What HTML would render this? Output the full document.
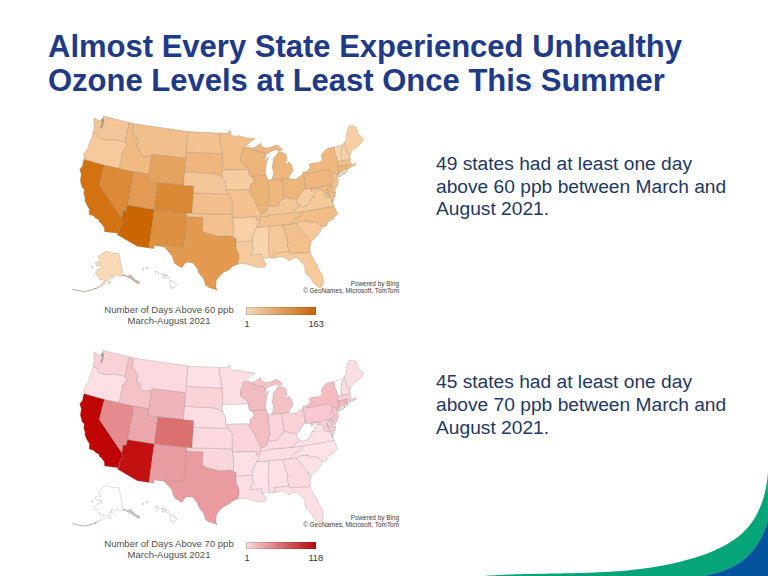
<!DOCTYPE html>
<html><head><meta charset="utf-8">
<style>
html,body{margin:0;padding:0;background:#fff;}
body{width:768px;height:576px;position:relative;overflow:hidden;font-family:"Liberation Sans",sans-serif;}
.t{position:absolute;left:48px;top:29.7px;font-weight:bold;font-size:31px;line-height:34.5px;color:#203a88;white-space:nowrap;}
.b{position:absolute;left:436px;font-size:19.2px;line-height:22.8px;color:#1f3864;white-space:nowrap;}
.lg{position:absolute;font-size:9.5px;line-height:11px;color:#505050;text-align:center;white-space:nowrap;width:160px;}
.n{position:absolute;font-size:9.3px;line-height:11px;color:#383838;white-space:nowrap;}
.pw{position:absolute;right:369px;font-size:6.4px;line-height:7px;color:#404040;text-align:right;white-space:nowrap;}
.bar{position:absolute;left:246.4px;width:69.4px;height:7.4px;box-shadow:inset 0 0 0 0.6px rgba(90,60,40,0.35);}
svg{position:absolute;left:0;top:0;}
</style></head><body>
<svg width="768" height="576" viewBox="0 0 768 576">
<path d="M767.94 470.32L767.80 473.15L767.59 475.99L767.30 478.86L766.94 481.73L766.50 484.61L765.98 487.49L765.38 490.36L764.71 493.22L763.96 496.07L763.13 498.88L762.21 501.67L761.22 504.43L760.14 507.14L758.98 509.81L757.74 512.42L756.41 514.97L755.00 517.47L753.50 519.89L751.91 522.23L750.24 524.50L748.48 526.68L746.63 528.77L744.71 530.79L742.71 532.73L740.63 534.59L738.49 536.38L736.28 538.09L734.00 539.74L731.67 541.32L729.29 542.83L726.85 544.28L724.36 545.68L721.83 547.01L719.26 548.29L716.65 549.51L714.00 550.68L711.33 551.81L708.63 552.88L705.91 553.92L703.16 554.91L700.40 555.86L697.63 556.77L694.85 557.64L692.06 558.49L689.27 559.30L686.48 560.08L683.68 560.83L680.88 561.55L678.07 562.24L675.27 562.90L672.46 563.54L669.64 564.14L666.83 564.72L664.01 565.28L661.19 565.81L658.37 566.31L655.54 566.80L652.71 567.25L649.88 567.69L647.05 568.10L644.21 568.49L641.37 568.86L638.53 569.21L635.69 569.54L632.84 569.86L630.00 570.15L627.15 570.43L624.30 570.68L621.45 570.93L618.59 571.16L615.74 571.37L612.88 571.57L610.02 571.75L607.16 571.92L604.30 572.08L601.43 572.23L598.57 572.36L595.70 572.49L592.84 572.60L589.97 572.71L587.10 572.81L584.23 572.90L581.36 572.98L578.49 573.05L575.62 573.12L572.75 573.19L569.87 573.25L567.00 573.30L564.12 573.35L561.25 573.40L558.37 573.45L555.50 573.50L552.62 573.54L549.75 573.58L546.87 573.63L544.00 573.67L541.12 573.72L538.25 573.77L535.37 573.82L532.50 573.88L529.62 573.94L526.75 574.01L523.87 574.08L521.00 574.15L518.13 574.24L515.26 574.33L512.39 574.43L509.52 574.54L506.65 574.66L503.78 574.78L500.91 574.92L498.04 575.07L495.18 575.23L492.31 575.41L489.45 575.60L486.59 575.80L483.73 576.01L480.87 576.24L478.01 576.49L768 576Z" fill="#05a577"/>
<path d="M768.12 518.73L767.66 520.35L767.18 521.97L766.67 523.57L766.14 525.17L765.58 526.75L764.99 528.33L764.38 529.89L763.74 531.44L763.07 532.98L762.38 534.50L761.66 536.01L760.91 537.49L760.14 538.96L759.34 540.41L758.50 541.84L757.65 543.25L756.76 544.64L755.84 546.00L754.90 547.34L753.92 548.65L752.92 549.93L751.89 551.19L750.82 552.42L749.73 553.62L748.61 554.79L747.46 555.93L746.27 557.03L745.06 558.10L743.81 559.14L742.54 560.14L741.23 561.10L739.90 562.03L738.54 562.93L737.15 563.80L735.74 564.63L734.31 565.43L732.85 566.20L731.38 566.94L729.88 567.65L728.37 568.33L726.84 568.98L725.29 569.60L723.73 570.20L722.16 570.77L720.58 571.32L718.98 571.84L717.38 572.34L715.77 572.81L714.15 573.26L712.53 573.69L710.90 574.09L709.28 574.48L707.65 574.85L706.02 575.19L704.39 575.52L702.77 575.83L701.15 576.12L699.53 576.39L697.92 576.65L768 576Z" fill="#02539c"/>
<path d="M768.12 518.73L767.66 520.35L767.18 521.97L766.67 523.57L766.14 525.17L765.58 526.75L764.99 528.33L764.38 529.89L763.74 531.44L763.07 532.98L762.38 534.50L761.66 536.01L760.91 537.49L760.14 538.96L759.34 540.41L758.50 541.84L757.65 543.25L756.76 544.64L755.84 546.00L754.90 547.34L753.92 548.65L752.92 549.93L751.89 551.19L750.82 552.42L749.73 553.62L748.61 554.79L747.46 555.93L746.27 557.03L745.06 558.10L743.81 559.14L742.54 560.14L741.23 561.10L739.90 562.03L738.54 562.93L737.15 563.80L735.74 564.63L734.31 565.43L732.85 566.20L731.38 566.94L729.88 567.65L728.37 568.33L726.84 568.98L725.29 569.60L723.73 570.20L722.16 570.77L720.58 571.32L718.98 571.84L717.38 572.34L715.77 572.81L714.15 573.26L712.53 573.69L710.90 574.09L709.28 574.48L707.65 574.85L706.02 575.19L704.39 575.52L702.77 575.83L701.15 576.12L699.53 576.39L697.92 576.65" fill="none" stroke="#1c9f98" stroke-width="1.3" stroke-opacity="0.85"/>
<g stroke="#7a6a5c" stroke-opacity="0.45" stroke-width="0.5" stroke-linejoin="round">
<path d="M94.1 117.5L98.6 120.5L101.4 120.9L103.5 117.7L102.7 115.8L129.4 122.6L125.6 139.4L125.5 142.3L115.9 140.1L112.9 139.8L108.3 140.3L104.9 140.1L101.2 139.0L97.7 137.7L97.9 134.6L96.2 133.8L93.2 132.1L94.0 127.8L94.3 125.1L93.7 120.7Z" fill="#f4c598"/>
<path d="M93.2 132.1L96.2 133.8L97.9 134.6L97.7 137.7L101.2 139.0L104.9 140.1L108.3 140.3L112.9 139.8L115.9 140.1L125.5 142.3L127.1 145.5L124.8 148.4L121.9 152.3L122.6 154.9L121.5 157.6L119.1 168.7L104.4 165.2L83.8 159.4L84.0 153.8L87.7 148.5L89.7 142.8L91.9 137.1Z" fill="#f7c99c"/>
<path d="M83.8 159.4L104.4 165.2L99.3 185.0L121.7 218.1L121.5 219.1L123.6 223.3L121.6 224.4L121.0 225.6L119.1 228.7L119.8 231.7L118.2 233.3L104.5 231.7L104.3 227.7L101.5 223.5L99.2 221.9L99.1 219.8L95.5 218.2L93.7 216.0L89.2 214.5L89.4 209.3L86.8 205.0L84.7 200.2L85.2 198.2L83.7 193.6L84.3 189.5L82.1 187.4L80.3 180.4L81.3 174.3L79.7 169.6L82.4 166.1Z" fill="#d37210"/>
<path d="M104.4 165.2L133.9 171.8L126.5 210.7L122.5 211.2L122.8 214.2L121.7 218.1L99.3 185.0Z" fill="#dc8a38"/>
<path d="M129.4 122.6L133.7 123.6L132.3 130.2L133.2 134.0L134.8 135.7L137.3 140.0L138.4 140.6L136.8 144.7L136.5 147.7L139.6 148.3L140.4 153.3L143.0 156.5L145.5 156.3L150.1 155.7L151.5 157.6L148.8 174.4L133.9 171.8L119.1 168.7L121.5 157.6L122.6 154.9L121.9 152.3L124.8 148.4L127.1 145.5L125.5 142.3L125.6 139.4Z" fill="#f0ba83"/>
<path d="M133.7 123.6L188.1 131.6L185.8 158.4L152.0 154.3L151.5 157.6L150.1 155.7L145.5 156.3L143.0 156.5L140.4 153.3L139.6 148.3L136.5 147.7L136.8 144.7L138.4 140.6L137.3 140.0L134.8 135.7L133.2 134.0L132.3 130.2Z" fill="#f1bf8c"/>
<path d="M152.0 154.3L185.8 158.4L184.7 171.9L183.5 185.4L147.8 181.1L148.8 174.4L151.5 157.6Z" fill="#e6a35f"/>
<path d="M133.9 171.8L148.8 174.4L147.8 181.1L158.0 182.6L154.2 209.7L127.5 205.3L126.5 210.7Z" fill="#e39a52"/>
<path d="M158.0 182.6L193.8 186.2L193.3 193.0L192.1 213.5L186.9 213.1L154.2 209.7Z" fill="#da8834"/>
<path d="M127.5 205.3L154.2 209.7L149.0 248.0L137.3 246.3L117.3 234.7L118.2 233.3L119.8 231.7L119.1 228.7L121.0 225.6L121.6 224.4L123.6 223.3L121.5 219.1L121.7 218.1L122.8 214.2L122.5 211.2L126.5 210.7Z" fill="#ca6600"/>
<path d="M154.2 209.7L186.9 213.1L186.4 216.5L184.1 247.1L163.6 245.2L163.9 246.8L154.2 245.6L153.8 248.7L149.0 248.0Z" fill="#dd9040"/>
<path d="M186.4 216.5L203.0 217.5L202.5 230.7L206.9 233.3L213.6 234.9L219.2 236.3L224.9 236.0L230.5 235.7L233.5 237.4L236.0 238.0L236.1 241.7L236.2 248.6L238.9 253.9L239.3 258.7L237.7 264.3L232.6 266.6L229.1 269.7L222.5 273.1L218.8 277.1L216.3 280.5L215.9 287.2L217.4 290.6L214.3 289.2L209.4 287.7L205.7 285.6L203.5 278.8L198.9 273.2L196.7 267.7L192.8 262.9L186.9 262.3L185.0 263.6L182.3 267.5L180.5 267.3L174.8 263.5L173.3 260.6L172.0 255.7L166.7 249.7L163.9 246.8L163.6 245.2L184.1 247.1Z" fill="#e39a4e"/>
<path d="M186.9 213.1L192.1 213.5L232.4 214.5L232.4 217.9L233.6 225.4L233.5 237.4L230.5 235.7L224.9 236.0L219.2 236.3L213.6 234.9L206.9 233.3L202.5 230.7L203.0 217.5L186.4 216.5Z" fill="#f2c18d"/>
<path d="M193.3 193.0L228.5 194.0L230.6 196.7L232.3 199.8L232.4 214.5L192.1 213.5Z" fill="#f1be8c"/>
<path d="M184.7 171.9L212.4 173.4L217.9 174.5L221.9 177.0L222.6 177.0L224.4 180.4L225.6 183.4L225.5 187.2L226.1 190.0L228.5 194.0L193.3 193.0L193.8 186.2L183.5 185.4Z" fill="#f4c597"/>
<path d="M186.3 152.0L222.2 153.7L222.2 158.0L222.7 158.0L222.6 170.2L221.9 173.6L222.6 177.0L221.9 177.0L217.9 174.5L212.4 173.4L184.7 171.9L185.8 158.4Z" fill="#efb77f"/>
<path d="M188.1 131.6L219.2 133.1L219.8 139.8L220.9 146.5L222.0 151.2L222.2 153.7L186.3 152.0Z" fill="#f3c290"/>
<path d="M219.2 133.1L228.8 133.1L228.7 130.6L230.3 131.1L231.3 135.1L235.0 136.4L238.7 135.6L243.4 137.1L248.0 137.9L252.7 138.3L255.1 138.8L251.5 141.0L246.1 146.0L243.3 147.8L242.6 152.2L240.5 155.7L240.5 161.4L243.0 163.4L245.0 165.0L248.1 167.2L248.6 169.6L222.6 170.2L222.7 158.0L222.2 158.0L222.2 153.7L222.0 151.2L220.9 146.5L219.8 139.8Z" fill="#f1be8a"/>
<path d="M222.6 170.2L248.6 169.6L249.2 175.0L252.1 176.9L254.6 180.8L252.4 183.0L250.5 185.2L250.2 188.6L248.6 190.8L247.0 189.4L226.1 190.0L225.5 187.2L225.6 183.4L224.4 180.4L222.6 177.0L221.9 173.6Z" fill="#f8cca1"/>
<path d="M226.1 190.0L247.0 189.4L248.6 190.8L251.0 194.7L252.7 197.3L255.6 200.6L255.7 202.6L257.6 207.3L260.0 211.3L262.0 213.2L260.4 216.7L259.5 220.2L255.8 220.4L256.8 217.0L232.4 217.9L232.4 214.5L232.3 199.8L230.6 196.7L228.5 194.0Z" fill="#f3c28f"/>
<path d="M232.4 217.9L256.8 217.0L255.8 220.4L259.5 220.2L257.7 226.5L256.6 227.2L255.1 230.7L252.1 237.1L252.5 241.1L236.1 241.7L236.0 238.0L233.5 237.4L233.6 225.4Z" fill="#f9d0a5"/>
<path d="M236.1 241.7L252.5 241.1L252.5 244.6L253.8 247.9L250.6 253.5L250.4 254.9L261.6 254.3L262.7 259.6L264.0 260.6L266.6 264.1L264.4 267.7L260.8 267.2L257.2 267.4L253.0 266.3L248.7 264.5L242.7 263.7L237.7 264.3L239.3 258.7L238.9 253.9L236.2 248.6Z" fill="#f5ca9f"/>
<path d="M256.6 227.2L268.3 226.4L268.9 227.0L268.5 247.6L269.7 257.8L266.2 258.2L262.7 259.6L261.6 254.3L250.4 254.9L250.6 253.5L253.8 247.9L252.5 244.6L252.5 241.1L252.1 237.1L255.1 230.7Z" fill="#fad3ac"/>
<path d="M268.3 226.4L282.7 225.0L288.0 241.6L287.4 245.1L289.2 251.8L274.0 253.3L275.0 258.0L272.1 258.6L269.7 257.8L268.5 247.6L268.9 227.0Z" fill="#f6c799"/>
<path d="M282.7 225.0L296.5 223.3L298.7 226.5L302.8 231.4L305.5 234.5L307.8 238.3L311.2 241.3L310.2 246.2L310.1 251.0L307.2 253.5L305.9 252.5L290.2 253.7L289.2 251.8L287.4 245.1L288.0 241.6Z" fill="#f2c18b"/>
<path d="M275.0 258.0L274.0 253.3L289.2 251.8L290.2 253.7L305.9 252.5L307.2 253.5L310.1 251.0L311.7 255.6L314.3 260.7L317.8 265.6L317.8 267.6L322.1 274.5L323.1 277.7L323.4 282.4L322.2 286.7L319.2 287.9L317.1 286.2L313.5 283.3L311.6 279.5L308.7 276.5L305.8 273.5L304.6 268.9L304.7 265.5L301.3 262.6L297.7 258.2L294.0 257.7L290.2 260.5L287.7 260.1L285.7 258.0L281.4 256.7Z" fill="#f6ca9a"/>
<path d="M296.5 223.3L300.2 221.4L307.7 220.7L307.9 221.4L308.4 220.9L309.4 222.7L315.7 221.8L323.0 227.1L320.2 232.1L316.8 236.1L313.8 239.4L311.2 241.3L307.8 238.3L305.5 234.5L302.8 231.4L298.7 226.5Z" fill="#f8c89a"/>
<path d="M334.0 206.1L302.8 211.5L301.5 215.0L298.4 216.5L293.8 219.9L291.3 222.0L289.8 224.2L296.5 223.3L300.2 221.4L307.7 220.7L307.9 221.4L308.4 220.9L309.4 222.7L315.7 221.8L323.0 227.1L326.5 226.0L328.5 221.5L333.2 219.1L335.4 215.9L337.9 214.3L335.7 209.5Z" fill="#f0bd86"/>
<path d="M302.8 211.5L291.9 212.9L268.1 214.9L268.2 216.1L260.4 216.7L259.5 220.2L257.7 226.5L256.6 227.2L268.3 226.4L282.7 225.0L289.8 224.2L291.3 222.0L293.8 219.9L298.4 216.5L301.5 215.0Z" fill="#f2c18d"/>
<path d="M291.9 212.9L268.1 214.9L268.2 216.1L260.4 216.7L262.0 213.2L265.5 212.2L267.4 209.3L269.9 206.4L273.1 206.1L275.8 205.8L278.4 204.9L279.2 202.7L281.0 199.8L284.1 198.7L283.8 196.7L285.4 196.5L290.0 199.0L293.7 198.2L296.1 199.9L298.3 204.5L300.2 205.3L296.7 208.5Z" fill="#f4c695"/>
<path d="M334.0 206.1L302.8 211.5L291.9 212.9L296.7 208.5L300.2 205.3L303.0 206.9L306.4 205.3L309.2 204.2L310.7 200.4L312.3 196.7L313.9 197.1L314.9 193.5L317.2 189.6L320.1 189.7L320.5 189.5L321.9 190.7L324.3 191.7L324.9 192.2L323.9 195.2L325.7 196.3L329.8 197.5L331.7 199.9L332.7 203.2L333.0 203.8Z" fill="#f5c998"/>
<path d="M335.2 195.4L331.9 196.7L331.8 199.2L332.7 202.5L334.1 199.4Z" fill="#f5c998"/>
<path d="M296.1 199.9L298.0 198.3L299.7 195.3L301.4 192.6L303.6 189.8L304.8 187.6L304.5 183.2L305.6 189.4L310.9 188.5L311.5 192.0L313.7 189.8L314.6 188.7L316.9 188.1L320.5 189.5L320.1 189.7L317.2 189.6L314.9 193.5L313.9 197.1L312.3 196.7L310.7 200.4L309.2 204.2L306.4 205.3L303.0 206.9L300.2 205.3L298.3 204.5Z" fill="#f6cd9e"/>
<path d="M310.9 188.5L329.9 184.8L332.2 193.2L335.6 192.4L335.2 195.4L331.9 196.7L329.8 197.5L325.7 196.3L323.9 195.2L324.9 192.2L324.3 191.7L321.9 190.7L320.5 189.5L316.9 188.1L314.6 188.7L313.7 189.8L311.5 192.0Z" fill="#f2bd85"/>
<path d="M329.9 184.8L331.2 183.7L331.3 185.3L332.5 187.2L335.0 190.1L335.6 192.4L332.2 193.2Z" fill="#f2bd85"/>
<path d="M305.6 189.4L302.7 171.9L306.5 171.6L306.9 173.4L328.8 169.1L330.3 170.2L333.0 172.7L331.5 175.5L331.6 178.3L333.3 180.0L334.8 180.7L333.1 182.5L331.8 183.8L331.2 183.7L329.9 184.8Z" fill="#eeb67e"/>
<path d="M333.0 172.7L337.6 174.2L337.5 176.2L336.6 177.8L338.0 178.2L338.4 182.3L337.6 185.7L335.4 189.1L331.3 185.3L331.8 183.8L333.1 182.5L334.8 180.7L333.3 180.0L331.6 178.3L331.5 175.5Z" fill="#f3c28e"/>
<path d="M306.9 173.4L306.5 171.6L309.8 168.0L310.1 166.6L309.0 165.1L309.1 164.0L313.9 162.7L318.9 162.4L322.5 160.0L321.5 157.5L321.0 155.5L324.9 150.2L327.3 148.6L333.9 147.0L335.3 153.7L336.7 156.5L337.8 161.8L337.9 166.7L338.8 171.7L339.3 172.3L338.2 173.2L338.8 173.9L337.9 175.4L337.5 176.2L337.6 174.2L333.0 172.7L330.3 170.2L328.8 169.1Z" fill="#f0b87e"/>
<path d="M337.5 176.8L342.5 174.7L346.9 171.1L347.6 171.1L344.8 173.4L340.2 176.4Z" fill="#f0b87e"/>
<path d="M333.9 147.0L342.6 144.8L342.7 146.9L341.5 150.0L341.0 154.3L341.5 159.1L341.9 160.9L337.8 161.8L336.7 156.5L335.3 153.7Z" fill="#f8d3ad"/>
<path d="M342.6 144.8L344.1 142.4L346.8 150.7L347.4 152.7L349.8 156.4L349.7 157.9L347.6 159.7L341.9 160.9L341.5 159.1L341.0 154.3L341.5 150.0L342.7 146.9Z" fill="#f7cfa6"/>
<path d="M344.1 142.4L345.2 141.4L346.7 137.5L346.6 131.9L348.9 126.0L353.1 125.5L355.9 126.6L358.3 134.1L360.4 135.6L363.9 139.4L360.2 144.1L356.0 147.5L351.9 151.1L349.8 156.4L347.4 152.7L346.8 150.7Z" fill="#f8cfa3"/>
<path d="M337.9 166.7L337.8 161.8L341.9 160.9L347.6 159.7L349.7 157.9L351.0 159.1L349.7 161.9L351.7 163.5L353.1 164.5L355.6 164.2L355.1 162.2L356.0 164.8L353.0 166.3L350.5 167.3L348.4 164.3L346.3 164.9Z" fill="#f3c18b"/>
<path d="M346.3 164.9L348.4 164.3L350.5 167.3L348.9 168.7L347.2 169.5Z" fill="#f3c18b"/>
<path d="M337.9 166.7L346.3 164.9L347.2 169.5L344.1 170.6L341.7 171.7L338.8 173.9L338.2 173.2L339.3 172.3L338.8 171.7Z" fill="#efb477"/>
<path d="M281.8 179.1L288.6 178.0L292.1 179.1L296.2 178.9L299.0 176.7L303.1 174.2L304.5 183.2L304.8 187.6L303.6 189.8L301.4 192.6L299.7 195.3L298.0 198.3L296.1 199.9L293.7 198.2L290.0 199.0L285.4 196.5L283.8 196.7Z" fill="#edb67b"/>
<path d="M268.0 180.1L271.5 179.8L281.8 179.1L283.8 196.7L284.1 198.7L281.0 199.8L279.2 202.7L278.4 204.9L275.8 205.8L273.1 206.1L269.9 206.4L267.5 207.3L268.1 203.8L269.9 200.9L269.4 196.5Z" fill="#efb87e"/>
<path d="M251.9 176.2L266.1 175.2L268.0 180.1L269.4 196.5L269.9 200.9L268.1 203.8L267.5 207.3L267.4 209.3L265.5 212.2L262.0 213.2L260.0 211.3L257.6 207.3L255.7 202.6L255.6 200.6L252.7 197.3L251.0 194.7L248.6 190.8L250.2 188.6L250.5 185.2L252.4 183.0L254.6 180.8L252.1 176.9Z" fill="#eab274"/>
<path d="M251.9 176.2L266.1 175.2L265.3 171.9L265.9 167.0L266.6 163.6L268.4 156.6L266.2 159.5L264.0 161.4L265.6 157.5L265.4 155.5L264.2 152.9L262.7 152.0L259.8 151.9L257.8 151.4L253.0 150.0L251.5 148.6L248.5 146.6L243.3 147.8L242.6 152.2L240.5 155.7L240.5 161.4L243.0 163.4L245.0 165.0L248.1 167.2L248.6 169.6L249.2 175.0L252.1 176.9Z" fill="#eeb57a"/>
<path d="M271.5 179.8L272.8 176.6L273.7 172.4L271.9 167.2L273.0 163.0L273.5 158.1L275.6 155.9L277.7 152.9L278.6 151.6L281.0 151.8L285.7 154.0L286.5 156.6L287.0 160.6L284.5 163.7L286.4 163.4L289.2 162.0L291.6 164.8L292.7 168.7L292.6 171.5L290.0 175.3L288.6 178.0L281.8 179.1Z" fill="#ecb67c"/>
<path d="M251.5 148.6L255.6 146.8L260.8 143.1L260.8 146.1L265.7 148.0L270.0 147.6L276.8 144.9L279.5 146.9L281.5 148.4L282.7 149.9L278.9 150.7L275.0 149.8L271.3 151.6L268.1 152.9L265.4 155.5L264.2 152.9L262.7 152.0L259.8 151.9L257.8 151.4L253.0 150.0Z" fill="#ecb67c"/>
<path d="M106.4 251.0L108.2 252.0L109.9 252.1L111.3 253.0L112.9 253.2L114.9 253.3L116.9 253.2L119.1 253.8L123.2 274.9L122.8 275.7L120.6 276.1L118.2 275.5L116.4 274.8L114.8 276.1L113.4 277.8L111.5 278.8L111.7 275.8L113.0 274.1L110.8 276.3L109.1 278.7L108.0 280.5L105.5 282.8L102.8 285.4L100.1 287.0L96.6 288.5L94.1 288.8L96.0 287.7L98.2 286.6L100.9 284.8L102.9 282.4L104.4 280.0L102.6 279.6L99.6 279.8L99.3 277.0L97.2 275.5L95.9 273.7L95.5 272.2L97.6 269.3L101.4 268.6L101.6 266.3L99.2 265.8L96.2 265.5L95.3 262.7L98.9 261.3L101.1 262.5L99.8 260.0L98.6 257.7L97.9 256.7L101.2 254.7L103.1 252.6Z" fill="#fbd9b6"/>
<path d="M123.2 274.9L125.6 275.1L127.8 276.5L129.6 274.6L131.9 276.1L134.1 278.8L136.1 280.3L138.9 281.0L139.8 283.6L137.8 283.8L136.0 282.7L133.7 281.1L131.6 279.3L129.8 278.3L128.0 277.6L125.3 276.1L122.8 275.7Z" fill="#c9b7a5"/>
<path d="M110.5 281.0L111.0 282.6L109.2 284.2L107.7 283.5L108.8 281.9Z" fill="#fbd9b6"/>
<path d="M90.7 265.9L93.4 267.5L92.1 267.9Z" fill="#fbd9b6"/>
<path d="M95.0 274.9L93.4 275.1L94.2 275.9Z" fill="#fbd9b6"/>
<path d="M96.6 288.5L94.1 288.8L92.3 289.7L88.6 290.8L86.3 291.2L83.3 291.6L79.9 290.8L77.7 290.6L74.9 289.8L72.2 289.2" fill="none" stroke="#9a8a7c" stroke-width="0.9" stroke-opacity="0.8"/>
<path d="M328.5 186.3L327.5 188.9L328.7 192.2L329.0 194.9L330.2 196.7L331.6 199.2L332.7 203.2" fill="none" stroke="#9a8a7c" stroke-width="0.7" stroke-opacity="0.7"/>
<path d="M331.3 185.3L333.1 187.4L335.0 189.8" fill="none" stroke="#9a8a7c" stroke-width="0.7" stroke-opacity="0.7"/>
<path d="M338.5 174.9L342.1 173.4L345.4 171.5" fill="none" stroke="#9a8a7c" stroke-width="0.7" stroke-opacity="0.7"/>
<path d="M327.5 188.9L326.9 191.1L328.3 194.3" fill="none" stroke="#9a8a7c" stroke-width="0.7" stroke-opacity="0.7"/>
<path d="M102.4 117.4L104.3 120.0L103.2 125.6L101.6 128.7L99.7 127.8L101.4 125.1L101.7 121.7L100.5 120.7Z" fill="#9a8a7c" fill-opacity="0.75" stroke="none"/>
<path d="M142.6 268.8L143.9 268.9L143.6 270.3L142.5 270.0Z" fill="#fff" stroke="#999" stroke-opacity="0.8"/>
<path d="M145.8 267.2L147.8 266.9L148.6 268.2L147.0 269.0L145.9 268.5Z" fill="#fff" stroke="#999" stroke-opacity="0.8"/>
<path d="M155.2 271.2L157.8 271.5L159.3 273.4L157.5 274.0L155.6 272.6Z" fill="#fff" stroke="#999" stroke-opacity="0.8"/>
<path d="M161.3 273.8L164.8 274.2L165.6 275.2L162.0 275.0Z" fill="#fff" stroke="#999" stroke-opacity="0.8"/>
<path d="M162.6 277.0L163.6 276.6L163.9 277.8L162.9 278.0Z" fill="#fff" stroke="#999" stroke-opacity="0.8"/>
<path d="M165.0 275.4L167.6 275.8L169.6 277.4L168.6 278.6L166.6 277.8L165.3 277.2Z" fill="#fff" stroke="#999" stroke-opacity="0.8"/>
<path d="M170.3 280.2L172.4 281.0L175.2 282.6L177.0 284.6L175.0 286.6L172.2 288.8L170.8 286.0L169.8 283.6Z" fill="#fff" stroke="#999" stroke-opacity="0.8"/>
</g>
<g stroke="#7a6a6c" stroke-opacity="0.45" stroke-width="0.5" stroke-linejoin="round">
<path d="M94.1 351.9L98.6 354.9L101.4 355.3L103.5 352.1L102.7 350.2L129.4 357.0L125.6 373.8L125.5 376.7L115.9 374.5L112.9 374.2L108.3 374.7L104.9 374.5L101.2 373.4L97.7 372.1L97.9 369.0L96.2 368.2L93.2 366.5L94.0 362.2L94.3 359.5L93.7 355.1Z" fill="#f9d2d7"/>
<path d="M93.2 366.5L96.2 368.2L97.9 369.0L97.7 372.1L101.2 373.4L104.9 374.5L108.3 374.7L112.9 374.2L115.9 374.5L125.5 376.7L127.1 379.9L124.8 382.8L121.9 386.7L122.6 389.3L121.5 392.0L119.1 403.1L104.4 399.6L83.8 393.8L84.0 388.2L87.7 382.9L89.7 377.2L91.9 371.5Z" fill="#fde0e5"/>
<path d="M83.8 393.8L104.4 399.6L99.3 419.4L121.7 452.5L121.5 453.5L123.6 457.7L121.6 458.8L121.0 460.0L119.1 463.1L119.8 466.1L118.2 467.7L104.5 466.1L104.3 462.1L101.5 457.9L99.2 456.3L99.1 454.2L95.5 452.6L93.7 450.4L89.2 448.9L89.4 443.7L86.8 439.4L84.7 434.6L85.2 432.6L83.7 428.0L84.3 423.9L82.1 421.8L80.3 414.8L81.3 408.7L79.7 404.0L82.4 400.5Z" fill="#bf0404"/>
<path d="M104.4 399.6L133.9 406.2L126.5 445.1L122.5 445.6L122.8 448.6L121.7 452.5L99.3 419.4Z" fill="#e68b8e"/>
<path d="M129.4 357.0L133.7 358.0L132.3 364.6L133.2 368.4L134.8 370.1L137.3 374.4L138.4 375.0L136.8 379.1L136.5 382.1L139.6 382.7L140.4 387.7L143.0 390.9L145.5 390.7L150.1 390.1L151.5 392.0L148.8 408.8L133.9 406.2L119.1 403.1L121.5 392.0L122.6 389.3L121.9 386.7L124.8 382.8L127.1 379.9L125.5 376.7L125.6 373.8Z" fill="#f5c2c7"/>
<path d="M133.7 358.0L188.1 366.0L185.8 392.8L152.0 388.7L151.5 392.0L150.1 390.1L145.5 390.7L143.0 390.9L140.4 387.7L139.6 382.7L136.5 382.1L136.8 379.1L138.4 375.0L137.3 374.4L134.8 370.1L133.2 368.4L132.3 364.6Z" fill="#fbd9de"/>
<path d="M152.0 388.7L185.8 392.8L184.7 406.3L183.5 419.8L147.8 415.5L148.8 408.8L151.5 392.0Z" fill="#efb4b9"/>
<path d="M133.9 406.2L148.8 408.8L147.8 415.5L158.0 417.0L154.2 444.1L127.5 439.7L126.5 445.1Z" fill="#eba8ac"/>
<path d="M158.0 417.0L193.8 420.6L193.3 427.4L192.1 447.9L186.9 447.5L154.2 444.1Z" fill="#dc7070"/>
<path d="M127.5 439.7L154.2 444.1L149.0 482.4L137.3 480.7L117.3 469.1L118.2 467.7L119.8 466.1L119.1 463.1L121.0 460.0L121.6 458.8L123.6 457.7L121.5 453.5L121.7 452.5L122.8 448.6L122.5 445.6L126.5 445.1Z" fill="#c31111"/>
<path d="M154.2 444.1L186.9 447.5L186.4 450.9L184.1 481.5L163.6 479.6L163.9 481.2L154.2 480.0L153.8 483.1L149.0 482.4Z" fill="#e99ca0"/>
<path d="M186.4 450.9L203.0 451.9L202.5 465.1L206.9 467.7L213.6 469.3L219.2 470.7L224.9 470.4L230.5 470.1L233.5 471.8L236.0 472.4L236.1 476.1L236.2 483.0L238.9 488.3L239.3 493.1L237.7 498.7L232.6 501.0L229.1 504.1L222.5 507.5L218.8 511.5L216.3 514.9L215.9 521.6L217.4 525.0L214.3 523.6L209.4 522.1L205.7 520.0L203.5 513.2L198.9 507.6L196.7 502.1L192.8 497.3L186.9 496.7L185.0 498.0L182.3 501.9L180.5 501.7L174.8 497.9L173.3 495.0L172.0 490.1L166.7 484.1L163.9 481.2L163.6 479.6L184.1 481.5Z" fill="#ea9b9f"/>
<path d="M186.9 447.5L192.1 447.9L232.4 448.9L232.4 452.3L233.6 459.8L233.5 471.8L230.5 470.1L224.9 470.4L219.2 470.7L213.6 469.3L206.9 467.7L202.5 465.1L203.0 451.9L186.4 450.9Z" fill="#f8d6da"/>
<path d="M193.3 427.4L228.5 428.4L230.6 431.1L232.3 434.2L232.4 448.9L192.1 447.9Z" fill="#fbd9de"/>
<path d="M184.7 406.3L212.4 407.8L217.9 408.9L221.9 411.4L222.6 411.4L224.4 414.8L225.6 417.8L225.5 421.6L226.1 424.4L228.5 428.4L193.3 427.4L193.8 420.6L183.5 419.8Z" fill="#fcdde2"/>
<path d="M186.3 386.4L222.2 388.1L222.2 392.4L222.7 392.4L222.6 404.6L221.9 408.0L222.6 411.4L221.9 411.4L217.9 408.9L212.4 407.8L184.7 406.3L185.8 392.8Z" fill="#f8d3d7"/>
<path d="M188.1 366.0L219.2 367.5L219.8 374.2L220.9 380.9L222.0 385.6L222.2 388.1L186.3 386.4Z" fill="#fde1e5"/>
<path d="M219.2 367.5L228.8 367.5L228.7 365.0L230.3 365.5L231.3 369.5L235.0 370.8L238.7 370.0L243.4 371.5L248.0 372.3L252.7 372.7L255.1 373.2L251.5 375.4L246.1 380.4L243.3 382.2L242.6 386.6L240.5 390.1L240.5 395.8L243.0 397.8L245.0 399.4L248.1 401.6L248.6 404.0L222.6 404.6L222.7 392.4L222.2 392.4L222.2 388.1L222.0 385.6L220.9 380.9L219.8 374.2Z" fill="#fcdee3"/>
<path d="M222.6 404.6L248.6 404.0L249.2 409.4L252.1 411.3L254.6 415.2L252.4 417.4L250.5 419.6L250.2 423.0L248.6 425.2L247.0 423.8L226.1 424.4L225.5 421.6L225.6 417.8L224.4 414.8L222.6 411.4L221.9 408.0Z" fill="#ffffff"/>
<path d="M226.1 424.4L247.0 423.8L248.6 425.2L251.0 429.1L252.7 431.7L255.6 435.0L255.7 437.0L257.6 441.7L260.0 445.7L262.0 447.6L260.4 451.1L259.5 454.6L255.8 454.8L256.8 451.4L232.4 452.3L232.4 448.9L232.3 434.2L230.6 431.1L228.5 428.4Z" fill="#f9d5db"/>
<path d="M232.4 452.3L256.8 451.4L255.8 454.8L259.5 454.6L257.7 460.9L256.6 461.6L255.1 465.1L252.1 471.5L252.5 475.5L236.1 476.1L236.0 472.4L233.5 471.8L233.6 459.8Z" fill="#fce0e4"/>
<path d="M236.1 476.1L252.5 475.5L252.5 479.0L253.8 482.3L250.6 487.9L250.4 489.3L261.6 488.7L262.7 494.0L264.0 495.0L266.6 498.5L264.4 502.1L260.8 501.6L257.2 501.8L253.0 500.7L248.7 498.9L242.7 498.1L237.7 498.7L239.3 493.1L238.9 488.3L236.2 483.0Z" fill="#fbdee2"/>
<path d="M256.6 461.6L268.3 460.8L268.9 461.4L268.5 482.0L269.7 492.2L266.2 492.6L262.7 494.0L261.6 488.7L250.4 489.3L250.6 487.9L253.8 482.3L252.5 479.0L252.5 475.5L252.1 471.5L255.1 465.1Z" fill="#fde2e7"/>
<path d="M268.3 460.8L282.7 459.4L288.0 476.0L287.4 479.5L289.2 486.2L274.0 487.7L275.0 492.4L272.1 493.0L269.7 492.2L268.5 482.0L268.9 461.4Z" fill="#fde1e5"/>
<path d="M282.7 459.4L296.5 457.7L298.7 460.9L302.8 465.8L305.5 468.9L307.8 472.7L311.2 475.7L310.2 480.6L310.1 485.4L307.2 487.9L305.9 486.9L290.2 488.1L289.2 486.2L287.4 479.5L288.0 476.0Z" fill="#fbdadf"/>
<path d="M275.0 492.4L274.0 487.7L289.2 486.2L290.2 488.1L305.9 486.9L307.2 487.9L310.1 485.4L311.7 490.0L314.3 495.1L317.8 500.0L317.8 502.0L322.1 508.9L323.1 512.1L323.4 516.8L322.2 521.1L319.2 522.3L317.1 520.6L313.5 517.7L311.6 513.9L308.7 510.9L305.8 507.9L304.6 503.3L304.7 499.9L301.3 497.0L297.7 492.6L294.0 492.1L290.2 494.9L287.7 494.5L285.7 492.4L281.4 491.1Z" fill="#fcdfe4"/>
<path d="M296.5 457.7L300.2 455.8L307.7 455.1L307.9 455.8L308.4 455.3L309.4 457.1L315.7 456.2L323.0 461.5L320.2 466.5L316.8 470.5L313.8 473.8L311.2 475.7L307.8 472.7L305.5 468.9L302.8 465.8L298.7 460.9Z" fill="#fde2e5"/>
<path d="M334.0 440.5L302.8 445.9L301.5 449.4L298.4 450.9L293.8 454.3L291.3 456.4L289.8 458.6L296.5 457.7L300.2 455.8L307.7 455.1L307.9 455.8L308.4 455.3L309.4 457.1L315.7 456.2L323.0 461.5L326.5 460.4L328.5 455.9L333.2 453.5L335.4 450.3L337.9 448.7L335.7 443.9Z" fill="#fee3e6"/>
<path d="M302.8 445.9L291.9 447.3L268.1 449.3L268.2 450.5L260.4 451.1L259.5 454.6L257.7 460.9L256.6 461.6L268.3 460.8L282.7 459.4L289.8 458.6L291.3 456.4L293.8 454.3L298.4 450.9L301.5 449.4Z" fill="#fcdde1"/>
<path d="M291.9 447.3L268.1 449.3L268.2 450.5L260.4 451.1L262.0 447.6L265.5 446.6L267.4 443.7L269.9 440.8L273.1 440.5L275.8 440.2L278.4 439.3L279.2 437.1L281.0 434.2L284.1 433.1L283.8 431.1L285.4 430.9L290.0 433.4L293.7 432.6L296.1 434.3L298.3 438.9L300.2 439.7L296.7 442.9Z" fill="#fcdce0"/>
<path d="M334.0 440.5L302.8 445.9L291.9 447.3L296.7 442.9L300.2 439.7L303.0 441.3L306.4 439.7L309.2 438.6L310.7 434.8L312.3 431.1L313.9 431.5L314.9 427.9L317.2 424.0L320.1 424.1L320.5 423.9L321.9 425.1L324.3 426.1L324.9 426.6L323.9 429.6L325.7 430.7L329.8 431.9L331.7 434.3L332.7 437.6L333.0 438.2Z" fill="#fde0e3"/>
<path d="M335.2 429.8L331.9 431.1L331.8 433.6L332.7 436.9L334.1 433.8Z" fill="#fde0e3"/>
<path d="M296.1 434.3L298.0 432.7L299.7 429.7L301.4 427.0L303.6 424.2L304.8 422.0L304.5 417.6L305.6 423.8L310.9 422.9L311.5 426.4L313.7 424.2L314.6 423.1L316.9 422.5L320.5 423.9L320.1 424.1L317.2 424.0L314.9 427.9L313.9 431.5L312.3 431.1L310.7 434.8L309.2 438.6L306.4 439.7L303.0 441.3L300.2 439.7L298.3 438.9Z" fill="#ffffff"/>
<path d="M310.9 422.9L329.9 419.2L332.2 427.6L335.6 426.8L335.2 429.8L331.9 431.1L329.8 431.9L325.7 430.7L323.9 429.6L324.9 426.6L324.3 426.1L321.9 425.1L320.5 423.9L316.9 422.5L314.6 423.1L313.7 424.2L311.5 426.4Z" fill="#f9d3d8"/>
<path d="M329.9 419.2L331.2 418.1L331.3 419.7L332.5 421.6L335.0 424.5L335.6 426.8L332.2 427.6Z" fill="#f9d3d8"/>
<path d="M305.6 423.8L302.7 406.3L306.5 406.0L306.9 407.8L328.8 403.5L330.3 404.6L333.0 407.1L331.5 409.9L331.6 412.7L333.3 414.4L334.8 415.1L333.1 416.9L331.8 418.2L331.2 418.1L329.9 419.2Z" fill="#f7c8d0"/>
<path d="M333.0 407.1L337.6 408.6L337.5 410.6L336.6 412.2L338.0 412.6L338.4 416.7L337.6 420.1L335.4 423.5L331.3 419.7L331.8 418.2L333.1 416.9L334.8 415.1L333.3 414.4L331.6 412.7L331.5 409.9Z" fill="#f5c4ca"/>
<path d="M306.9 407.8L306.5 406.0L309.8 402.4L310.1 401.0L309.0 399.5L309.1 398.4L313.9 397.1L318.9 396.8L322.5 394.4L321.5 391.9L321.0 389.9L324.9 384.6L327.3 383.0L333.9 381.4L335.3 388.1L336.7 390.9L337.8 396.2L337.9 401.1L338.8 406.1L339.3 406.7L338.2 407.6L338.8 408.3L337.9 409.8L337.5 410.6L337.6 408.6L333.0 407.1L330.3 404.6L328.8 403.5Z" fill="#f4bcc2"/>
<path d="M337.5 411.2L342.5 409.1L346.9 405.5L347.6 405.5L344.8 407.8L340.2 410.8Z" fill="#f4bcc2"/>
<path d="M333.9 381.4L342.6 379.2L342.7 381.3L341.5 384.4L341.0 388.7L341.5 393.5L341.9 395.3L337.8 396.2L336.7 390.9L335.3 388.1Z" fill="#ffffff"/>
<path d="M342.6 379.2L344.1 376.8L346.8 385.1L347.4 387.1L349.8 390.8L349.7 392.3L347.6 394.1L341.9 395.3L341.5 393.5L341.0 388.7L341.5 384.4L342.7 381.3Z" fill="#fcdee2"/>
<path d="M344.1 376.8L345.2 375.8L346.7 371.9L346.6 366.3L348.9 360.4L353.1 359.9L355.9 361.0L358.3 368.5L360.4 370.0L363.9 373.8L360.2 378.5L356.0 381.9L351.9 385.5L349.8 390.8L347.4 387.1L346.8 385.1Z" fill="#fcdee3"/>
<path d="M337.9 401.1L337.8 396.2L341.9 395.3L347.6 394.1L349.7 392.3L351.0 393.5L349.7 396.3L351.7 397.9L353.1 398.9L355.6 398.6L355.1 396.6L356.0 399.2L353.0 400.7L350.5 401.7L348.4 398.7L346.3 399.3Z" fill="#f8d0d5"/>
<path d="M346.3 399.3L348.4 398.7L350.5 401.7L348.9 403.1L347.2 403.9Z" fill="#f8d0d5"/>
<path d="M337.9 401.1L346.3 399.3L347.2 403.9L344.1 405.0L341.7 406.1L338.8 408.3L338.2 407.6L339.3 406.7L338.8 406.1Z" fill="#f1b6bc"/>
<path d="M281.8 413.5L288.6 412.4L292.1 413.5L296.2 413.3L299.0 411.1L303.1 408.6L304.5 417.6L304.8 422.0L303.6 424.2L301.4 427.0L299.7 429.7L298.0 432.7L296.1 434.3L293.7 432.6L290.0 433.4L285.4 430.9L283.8 431.1Z" fill="#f9d1d7"/>
<path d="M268.0 414.5L271.5 414.2L281.8 413.5L283.8 431.1L284.1 433.1L281.0 434.2L279.2 437.1L278.4 439.3L275.8 440.2L273.1 440.5L269.9 440.8L267.5 441.7L268.1 438.2L269.9 435.3L269.4 430.9Z" fill="#f9d4da"/>
<path d="M251.9 410.6L266.1 409.6L268.0 414.5L269.4 430.9L269.9 435.3L268.1 438.2L267.5 441.7L267.4 443.7L265.5 446.6L262.0 447.6L260.0 445.7L257.6 441.7L255.7 437.0L255.6 435.0L252.7 431.7L251.0 429.1L248.6 425.2L250.2 423.0L250.5 419.6L252.4 417.4L254.6 415.2L252.1 411.3Z" fill="#f4bdc1"/>
<path d="M251.9 410.6L266.1 409.6L265.3 406.3L265.9 401.4L266.6 398.0L268.4 391.0L266.2 393.9L264.0 395.8L265.6 391.9L265.4 389.9L264.2 387.3L262.7 386.4L259.8 386.3L257.8 385.8L253.0 384.4L251.5 383.0L248.5 381.0L243.3 382.2L242.6 386.6L240.5 390.1L240.5 395.8L243.0 397.8L245.0 399.4L248.1 401.6L248.6 404.0L249.2 409.4L252.1 411.3Z" fill="#f0bcc2"/>
<path d="M271.5 414.2L272.8 411.0L273.7 406.8L271.9 401.6L273.0 397.4L273.5 392.5L275.6 390.3L277.7 387.3L278.6 386.0L281.0 386.2L285.7 388.4L286.5 391.0L287.0 395.0L284.5 398.1L286.4 397.8L289.2 396.4L291.6 399.2L292.7 403.1L292.6 405.9L290.0 409.7L288.6 412.4L281.8 413.5Z" fill="#f4c1c5"/>
<path d="M251.5 383.0L255.6 381.2L260.8 377.5L260.8 380.5L265.7 382.4L270.0 382.0L276.8 379.3L279.5 381.3L281.5 382.8L282.7 384.3L278.9 385.1L275.0 384.2L271.3 386.0L268.1 387.3L265.4 389.9L264.2 387.3L262.7 386.4L259.8 386.3L257.8 385.8L253.0 384.4Z" fill="#f4c1c5"/>
<path d="M106.4 485.4L108.2 486.4L109.9 486.5L111.3 487.4L112.9 487.6L114.9 487.7L116.9 487.6L119.1 488.2L123.2 509.3L122.8 510.1L120.6 510.5L118.2 509.9L116.4 509.2L114.8 510.5L113.4 512.2L111.5 513.2L111.7 510.2L113.0 508.5L110.8 510.7L109.1 513.1L108.0 514.9L105.5 517.2L102.8 519.8L100.1 521.4L96.6 522.9L94.1 523.2L96.0 522.1L98.2 521.0L100.9 519.2L102.9 516.8L104.4 514.4L102.6 514.0L99.6 514.2L99.3 511.4L97.2 509.9L95.9 508.1L95.5 506.6L97.6 503.7L101.4 503.0L101.6 500.7L99.2 500.2L96.2 499.9L95.3 497.1L98.9 495.7L101.1 496.9L99.8 494.4L98.6 492.1L97.9 491.1L101.2 489.1L103.1 487.0Z" fill="#ffffff"/>
<path d="M123.2 509.3L125.6 509.5L127.8 510.9L129.6 509.0L131.9 510.5L134.1 513.2L136.1 514.7L138.9 515.4L139.8 518.0L137.8 518.2L136.0 517.1L133.7 515.5L131.6 513.7L129.8 512.7L128.0 512.0L125.3 510.5L122.8 510.1Z" fill="#c8c4c4"/>
<path d="M110.5 515.4L111.0 517.0L109.2 518.6L107.7 517.9L108.8 516.3Z" fill="#ffffff"/>
<path d="M90.7 500.3L93.4 501.9L92.1 502.3Z" fill="#ffffff"/>
<path d="M95.0 509.3L93.4 509.5L94.2 510.3Z" fill="#ffffff"/>
<path d="M96.6 522.9L94.1 523.2L92.3 524.1L88.6 525.2L86.3 525.6L83.3 526.0L79.9 525.2L77.7 525.0L74.9 524.2L72.2 523.6" fill="none" stroke="#9a9090" stroke-width="0.9" stroke-opacity="0.8"/>
<path d="M328.5 420.7L327.5 423.3L328.7 426.6L329.0 429.3L330.2 431.1L331.6 433.6L332.7 437.6" fill="none" stroke="#9a9090" stroke-width="0.7" stroke-opacity="0.7"/>
<path d="M331.3 419.7L333.1 421.8L335.0 424.2" fill="none" stroke="#9a9090" stroke-width="0.7" stroke-opacity="0.7"/>
<path d="M338.5 409.3L342.1 407.8L345.4 405.9" fill="none" stroke="#9a9090" stroke-width="0.7" stroke-opacity="0.7"/>
<path d="M327.5 423.3L326.9 425.5L328.3 428.7" fill="none" stroke="#9a9090" stroke-width="0.7" stroke-opacity="0.7"/>
<path d="M102.4 351.8L104.3 354.4L103.2 360.0L101.6 363.1L99.7 362.2L101.4 359.5L101.7 356.1L100.5 355.1Z" fill="#9a9090" fill-opacity="0.75" stroke="none"/>
<path d="M142.6 503.2L143.9 503.3L143.6 504.7L142.5 504.4Z" fill="#fff" stroke="#999" stroke-opacity="0.8"/>
<path d="M145.8 501.6L147.8 501.3L148.6 502.6L147.0 503.4L145.9 502.9Z" fill="#fff" stroke="#999" stroke-opacity="0.8"/>
<path d="M155.2 505.6L157.8 505.9L159.3 507.8L157.5 508.4L155.6 507.0Z" fill="#fff" stroke="#999" stroke-opacity="0.8"/>
<path d="M161.3 508.2L164.8 508.6L165.6 509.6L162.0 509.4Z" fill="#fff" stroke="#999" stroke-opacity="0.8"/>
<path d="M162.6 511.4L163.6 511.0L163.9 512.2L162.9 512.4Z" fill="#fff" stroke="#999" stroke-opacity="0.8"/>
<path d="M165.0 509.8L167.6 510.2L169.6 511.8L168.6 513.0L166.6 512.2L165.3 511.6Z" fill="#fff" stroke="#999" stroke-opacity="0.8"/>
<path d="M170.3 514.6L172.4 515.4L175.2 517.0L177.0 519.0L175.0 521.0L172.2 523.2L170.8 520.4L169.8 518.0Z" fill="#fff" stroke="#999" stroke-opacity="0.8"/>
</g>
</svg>
<div class="t">Almost Every State Experienced Unhealthy<br>Ozone Levels at Least Once This Summer</div>
<div class="b" style="top:152.8px">49 states had at least one day<br>above 60 ppb between March and<br>August 2021.</div>
<div class="b" style="top:371.2px">45 states had at least one day<br>above 70 ppb between March and<br>August 2021.</div>
<div class="pw" style="top:279.8px">Powered by Bing<br>© GeoNames, Microsoft, TomTom</div>
<div class="pw" style="top:514.2px">Powered by Bing<br>© GeoNames, Microsoft, TomTom</div>
<div class="lg" style="left:89px;top:304px">Number of Days Above 60 ppb<br>March-August 2021</div>
<div class="lg" style="left:89px;top:538.4px">Number of Days Above 70 ppb<br>March-August 2021</div>
<div class="bar" style="top:307.3px;background:linear-gradient(90deg,#f3dabb,#c86408);"></div>
<div class="bar" style="top:541.7px;background:linear-gradient(90deg,#f7dade,#b2080a);"></div>
<div class="n" style="left:244.6px;top:318.6px">1</div>
<div class="n" style="left:308.4px;top:318.6px">163</div>
<div class="n" style="left:244.6px;top:553px">1</div>
<div class="n" style="left:308.4px;top:553px">118</div>
</body></html>
